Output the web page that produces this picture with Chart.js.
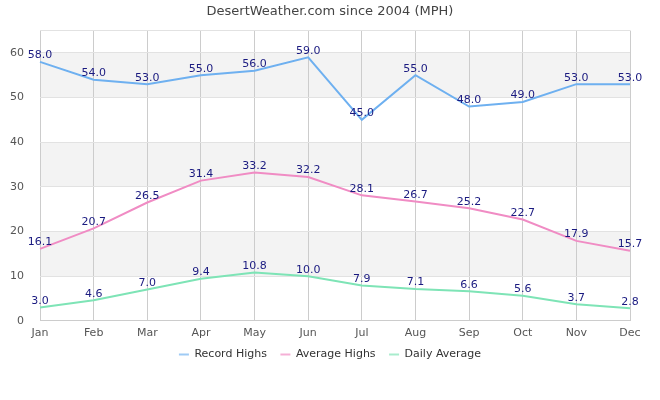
<!DOCTYPE html>
<html>
<head>
<meta charset="utf-8">
<script src="https://cdn.jsdelivr.net/npm/chart.js@4"></script>
<style>
  html, body { margin: 0; padding: 0; background: #fff; }
  #wrap { width: 660px; height: 400px; }
</style>
</head>
<body>
<div id="wrap"><canvas id="chart"></canvas></div>
<script>
const months = ["Jan","Feb","Mar","Apr","May","Jun","Jul","Aug","Sep","Oct","Nov","Dec"];
const recordHighs = [58.0,54.0,53.0,55.0,56.0,59.0,45.0,55.0,48.0,49.0,53.0,53.0];
const averageHighs = [16.1,20.7,26.5,31.4,33.2,32.2,28.1,26.7,25.2,22.7,17.9,15.7];
const dailyAverage = [3.0,4.6,7.0,9.4,10.8,10.0,7.9,7.1,6.6,5.6,3.7,2.8];
const yTicks = [0,10,20,30,40,50,60];

// grey bands behind the plot (10-20, 30-40, 50-60)
const bands = {
  id: "bands",
  beforeDraw(chart) {
    const {ctx, chartArea, scales} = chart;
    const y = scales.y;
    ctx.save();
    ctx.fillStyle = "#f3f3f3";
    for (let i = 1; i < yTicks.length; i += 2) {
      const top = y.getPixelForValue(yTicks[i + 1]);
      const bot = y.getPixelForValue(yTicks[i]);
      ctx.fillRect(chartArea.left, top, chartArea.right - chartArea.left, bot - top);
    }
    ctx.restore();
  }
};

// value labels over each point
const pointLabels = {
  id: "pointLabels",
  afterDatasetsDraw(chart) {
    const ctx = chart.ctx;
    ctx.save();
    ctx.font = "11px 'DejaVu Sans'";
    ctx.fillStyle = "#1a1a80";
    ctx.textAlign = "center";
    ctx.textBaseline = "bottom";
    chart.data.datasets.forEach((ds, i) => {
      chart.getDatasetMeta(i).data.forEach((pt, j) => {
        ctx.fillText(ds.data[j].toFixed(1), pt.x, pt.y - 1);
      });
    });
    ctx.restore();
  }
};

Chart.defaults.font.family = "'DejaVu Sans'";
Chart.defaults.color = "#555";

new Chart(document.getElementById("chart"), {
  type: "line",
  data: {
    labels: months,
    datasets: [
      {label: "Record Highs", data: recordHighs, borderColor: "#6eb0f0", backgroundColor: "#9fcbf5"},
      {label: "Average Highs", data: averageHighs, borderColor: "#f08cc4", backgroundColor: "#f5b0d6"},
      {label: "Daily Average", data: dailyAverage, borderColor: "#7ee4b6", backgroundColor: "#a8eccd"}
    ]
  },
  options: {
    responsive: true,
    maintainAspectRatio: false,
    animation: false,
    elements: {
      line: {borderWidth: 2, tension: 0, fill: false},
      point: {radius: 0}
    },
    layout: {padding: {left: 0, right: 0, top: 0, bottom: 30}},
    plugins: {
      title: {
        display: true,
        text: "DesertWeather.com since 2004 (MPH)",
        color: "#444",
        font: {size: 13, weight: "normal"},
        padding: {top: 4, bottom: 11}
      },
      legend: {
        position: "bottom",
        labels: {
          boxWidth: 10,
          boxHeight: 2,
          padding: 3,
          color: "#333",
          font: {size: 11},
          generateLabels(chart) {
            const items = Chart.defaults.plugins.legend.labels.generateLabels(chart);
            return items.map((l, i) => Object.assign(l, {
              lineWidth: 0,
              text: i < items.length - 1 ? l.text + "   " : l.text
            }));
          }
        }
      },
      tooltip: {enabled: false}
    },
    scales: {
      x: {
        offset: false,
        grid: {color: "#cccccc", drawTicks: false},
        border: {color: "#cccccc"},
        ticks: {padding: 6, maxRotation: 0, font: {size: 11}, color: "#555"}
      },
      y: {
        min: 0,
        max: 65,
        afterFit(scale) { scale.width = 40; },
        grid: {color: "#e2e2e2", drawTicks: false},
        border: {display: false},
        ticks: {
          stepSize: 10,
          padding: 16,
          font: {size: 11},
          color: "#555",
          callback: v => (v % 10 === 0 ? v : "")
        }
      },
      yRight: {
        position: "right",
        afterFit(scale) { scale.width = 30; },
        grid: {display: false},
        border: {display: false},
        ticks: {display: false}
      }
    }
  },
  plugins: [bands, pointLabels]
});
</script>
</body>
</html>
